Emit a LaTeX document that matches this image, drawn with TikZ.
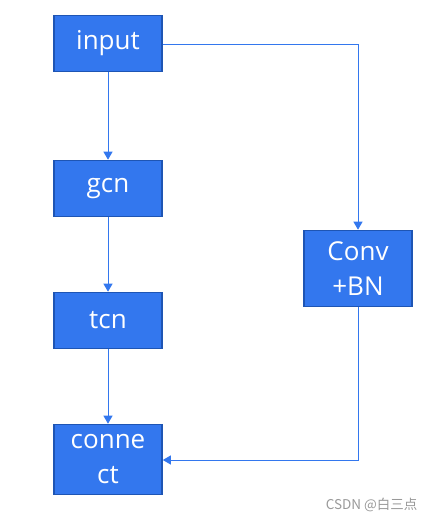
\documentclass[tikz,border=0pt]{standalone}
\usepackage{fontspec}
\setmainfont{Open Sans}
\newfontfamily\cjk{Noto Sans CJK SC}
\usetikzlibrary{arrows.meta}
\definecolor{boxfill}{RGB}{51,119,238}
\definecolor{boxedge}{RGB}{30,85,180}
\definecolor{linecol}{RGB}{51,119,238}
\tikzset{
  blk/.style={draw=boxedge, line width=1.6pt, fill=boxfill, text=white, minimum width=108pt, inner sep=0pt, font=\fontsize{26}{35}\selectfont, align=center},
  conn/.style={draw=linecol, line width=1pt, -{Triangle[width=9pt,length=8pt]}}
}
\begin{document}
\begin{tikzpicture}[x=1pt,y=-1pt]
\useasboundingbox (0,0) rectangle (436,523);
\node[blk, minimum height=56pt] (input) at (108,43.5) {input};
\node[blk, minimum height=56pt] (gcn) at (108,188.5) {gcn};
\node[blk, minimum height=56pt] (tcn) at (108,320.5) {tcn};
\node[blk, minimum height=70pt] (connect) at (108,459.5) {conne\\ct};
\node[blk, minimum height=76pt] (conv) at (358,268.5) {Conv\\+BN};
\coordinate (c1) at (358,44);
\coordinate (c2) at (358,460);
\draw[conn] (input) -- (gcn);
\draw[conn] (gcn) -- (tcn);
\draw[conn] (tcn) -- (connect);
\draw[conn] (input.east |- c1) -- (c1) -- (conv.north);
\draw[conn] (conv.south) -- (c2) -- (connect.east |- c2);
\node[text=gray!80, font=\cjk\fontsize{13.5}{16}\selectfont, anchor=east] (wm) at (421,505) {CSDN @白三点};
\end{tikzpicture}
\end{document}
